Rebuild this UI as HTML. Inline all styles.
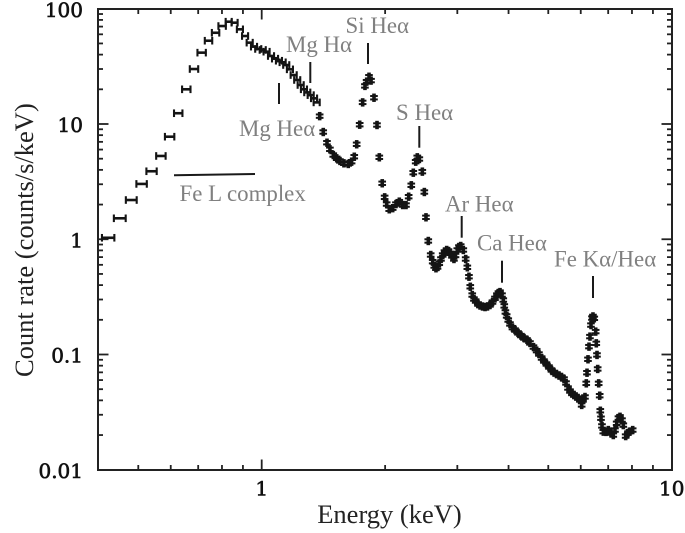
<!DOCTYPE html>
<html lang="en">
<head>
<meta charset="utf-8">
<title>X-ray count rate spectrum</title>
<style>
  html, body { margin: 0; padding: 0; background: #fff; }
  body { width: 685px; height: 533px; overflow: hidden; }
  svg { display: block; }
  .note { font-family: "Liberation Serif", serif; font-size: 22.9px; fill: #808080; }
  .title { font-family: "Liberation Serif", serif; font-size: 26.5px; fill: #222; }
  .tick-label { font-family: "DejaVu Serif", serif; font-size: 20px; fill: #111; stroke: #111; stroke-width: 0.6px; }
</style>
</head>
<body>
<svg id="chart" xmlns="http://www.w3.org/2000/svg" width="685" height="533" viewBox="0 0 685 533">
  <rect x="0" y="0" width="685" height="533" fill="#fff"/>
  <g id="ticks"></g>
  <rect x="98" y="9" width="574" height="461" fill="none" stroke="#222" stroke-width="2"/>
  <g id="labels"></g>
  <g id="points"></g>

  <g stroke="#1a1a1a" stroke-width="2" fill="none">
    <line x1="174" y1="175.3" x2="255" y2="174"/>
    <line x1="279" y1="83" x2="279" y2="104"/>
    <line x1="310.3" y1="62" x2="310.3" y2="83"/>
    <line x1="368" y1="43" x2="368" y2="64"/>
    <line x1="419.3" y1="126" x2="419.3" y2="147.7"/>
    <line x1="461.7" y1="216" x2="461.7" y2="237.7"/>
    <line x1="502" y1="260.7" x2="502" y2="282.7"/>
    <line x1="593" y1="276" x2="593" y2="298"/>
  </g>

  <text class="note" x="345.5" y="33">Si Heα</text>
  <text class="note" x="286" y="52">Mg Hα</text>
  <text class="note" x="239" y="136">Mg Heα</text>
  <text class="note" x="396" y="120">S Heα</text>
  <text class="note" x="179.5" y="201">Fe L complex</text>
  <text class="note" x="445" y="211.5">Ar Heα</text>
  <text class="note" x="477" y="250.7">Ca Heα</text>
  <text class="note" x="554" y="266.7">Fe Kα/Heα</text>

  <text class="title" x="389.5" y="523" text-anchor="middle">Energy (keV)</text>
  <text class="title" transform="translate(33 377) rotate(-90)">Count rate (counts/s/keV)</text>
</svg>

<script>
const energies = [
  0.4225,0.451,0.481,0.5097,0.539,0.568,0.5965,0.626,0.655,0.684,
  0.714,0.742,0.772,0.801,0.831,0.859,0.885,0.911,0.935,0.958,
  0.981,1.006,1.028,1.054,1.078,1.102,1.125,1.148,1.172,1.197,
  1.221,1.245,1.268,1.292,1.317,1.342,1.362,1.385,1.413,1.443,
  1.467,1.495,1.524,1.552,1.587,1.626,1.657,1.682,1.705,1.734,
  1.763,1.786,1.803,1.827,1.848,1.879,1.911,1.936,1.968,1.995,
  2.018,2.047,2.087,2.126,2.166,2.207,2.249,2.283,2.317,2.343,
  2.375,2.396,2.424,2.465,2.493,2.516,2.549,2.584,
  2.613,2.636,2.661,2.685,2.711,2.737,2.764,2.792,2.826,2.855,
  2.88,2.912,2.944,2.97,3.0,3.028,3.058,3.103,3.145,3.174,
  3.203,3.227,3.263,3.294,3.327,3.37,3.408,3.456,3.505,3.554,
  3.604,3.656,3.707,3.748,3.781,3.813,3.856,3.884,3.906,3.931,
  3.959,3.994,4.033,4.09,4.149,4.219,4.289,4.363,4.437,4.512,
  4.602,4.685,4.745,4.818,4.88,4.95,5.02,5.092,5.165,5.236,
  5.311,5.386,5.463,5.525,5.587,5.649,5.712,5.777,5.842,5.908,
  5.974,6.032,6.077,6.145,6.19,6.215,
  6.25,6.285,6.32,6.356,6.392,6.427,6.475,6.526,6.548,6.574,
  6.6,6.637,6.675,6.698,6.724,6.761,6.811,6.915,7.005,7.112,
  7.204,7.273,7.343,7.417,7.48,7.565,7.621,7.723,7.823,7.89,
  8.033
];
const countRates = [
  1.03,1.52,2.19,3.02,3.89,5.28,7.76,12.4,20.0,30.0,
  41.6,52.8,61.9,70.8,77.2,75.7,66.3,58.0,50.8,46.9,
  44.8,43.9,42.4,38.9,36.9,35.4,34.3,32.5,29.8,26.6,
  24.1,21.8,20.0,18.8,17.8,16.7,15.4,11.7,8.52,6.88,
  6.03,5.38,5.04,4.78,4.56,4.50,4.71,5.20,6.67,9.86,
  15.4,21.4,23.3,25.7,23.8,16.9,9.80,5.14,3.06,2.31,
  2.02,1.82,1.86,2.02,2.12,1.98,1.98,2.34,2.94,3.78,
  4.71,5.14,4.97,3.86,2.57,1.55,0.966,0.730,
  0.639,0.586,0.560,0.574,0.618,0.674,0.730,0.775,0.807,0.791,
  0.755,0.716,0.674,0.723,0.807,0.857,0.874,0.807,0.674,0.571,
  0.473,0.387,0.328,0.303,0.291,0.274,0.266,0.261,0.258,0.261,
  0.269,0.285,0.307,0.328,0.342,0.348,0.328,0.297,0.264,0.234,
  0.216,0.199,0.184,0.171,0.163,0.154,0.146,0.139,0.134,0.126,
  0.116,0.108,0.101,0.0932,0.0878,0.0827,0.0779,0.0734,0.0698,0.0677,
  0.0657,0.0638,0.0613,0.0566,0.0512,0.0482,0.0459,0.0445,0.0432,0.0419,
  0.0403,0.0365,0.0403,0.0428,0.0562,0.0695,
  0.0909,0.117,0.143,0.180,0.207,0.214,0.206,0.158,0.125,0.0991,
  0.0749,0.0562,0.0439,0.0325,0.028,0.024,0.0214,0.0213,0.0221,0.0208,
  0.020,0.0221,0.0253,0.0281,0.0288,0.027,0.0244,0.0196,0.0208,0.0214,
  0.0221
];
const lowEnergyHalfWidths = [0.0166,0.017,0.0168,0.0172,0.018,0.0176,0.0184,0.0176,0.0184,0.0192,0.02,0.0188,0.0195,0.0203];
const defaultBinFraction = 0.0215;
const crossMarkerEnergy = 1.375;

const xMajorTicks = [1, 10];
const xMinorTicks = [0.5,0.6,0.7,0.8,0.9,2,3,4,5,6,7,8,9];
const yMajorTicks = [0.1, 1, 10];
const yMinorBases = [0.01, 0.1, 1, 10];
const yMinorSteps = [2,3,4,5,6,7,8,9];
const xTickLabels = ["1", "10"];
const yTickValues = [100, 10, 1, 0.1, 0.01];
const yTickLabels = ["100", "10", "1", "0.1", "0.01"];

const NS = 'http://www.w3.org/2000/svg';
const xScale = function (e) { return 261.7 + 410 * Math.log10(e); };
const yScale = function (r) { return 124 - 115.25 * (Math.log10(r) - 1); };

function makeLine(parent, x1, y1, x2, y2, width, color) {
  const l = document.createElementNS(NS, 'line');
  l.setAttribute('x1', x1);
  l.setAttribute('y1', y1);
  l.setAttribute('x2', x2);
  l.setAttribute('y2', y2);
  l.setAttribute('stroke', color);
  l.setAttribute('stroke-width', width);
  parent.appendChild(l);
  return l;
}

const tickGroup = document.getElementById('ticks');
const tickColor = '#222';
xMajorTicks.forEach(function (v) {
  const px = xScale(v);
  if (v < 10) {
    const bottom = makeLine(tickGroup, px, 470, px, 459.5, 1.8, tickColor);
    
    
    const top = makeLine(tickGroup, px, 9, px, 19.5, 1.8, tickColor);
    
    
  }
});
xMinorTicks.forEach(function (v) {
  const px = xScale(v);
  const bottom = makeLine(tickGroup, px, 470, px, 465, 1.8, tickColor);
  
  
  const top = makeLine(tickGroup, px, 9, px, 14, 1.8, tickColor);
  
  
});
yMajorTicks.forEach(function (v) {
  const py = yScale(v);
  const left = makeLine(tickGroup, 98, py, 108.5, py, 1.8, tickColor);
  
  
  const right = makeLine(tickGroup, 672, py, 661.5, py, 1.8, tickColor);
  
  
});
yMinorBases.forEach(function (base) {
  yMinorSteps.forEach(function (step) {
    const py = yScale(base * step);
    const left = makeLine(tickGroup, 98, py, 103, py, 1.8, tickColor);
    
    
    const right = makeLine(tickGroup, 672, py, 667, py, 1.8, tickColor);
    
    
  });
});

const labelGroup = document.getElementById('labels');
yTickValues.forEach(function (v, i) {
  const t = document.createElementNS(NS, 'text');
  t.setAttribute('class', 'tick-label');
  
  
  t.setAttribute('x', 83);
  t.setAttribute('y', yScale(v) + 8);
  t.setAttribute('text-anchor', 'end');
  t.textContent = yTickLabels[i];
  labelGroup.appendChild(t);
});
xMajorTicks.forEach(function (v, i) {
  const t = document.createElementNS(NS, 'text');
  t.setAttribute('class', 'tick-label');
  
  
  t.setAttribute('x', xScale(v));
  t.setAttribute('y', 495.5);
  t.setAttribute('text-anchor', 'middle');
  t.textContent = xTickLabels[i];
  labelGroup.appendChild(t);
});

const pointGroup = document.getElementById('points');
const markColor = '#141414';
energies.forEach(function (e, i) {
  const half = i < lowEnergyHalfWidths.length ? lowEnergyHalfWidths[i] : e * defaultBinFraction;
  const x1 = xScale(e - half);
  const x2 = xScale(e + half);
  const cx = xScale(e);
  const py = yScale(countRates[i]);
  const g = document.createElementNS(NS, 'g');
  
  
  if (e >= crossMarkerEnergy) {
    makeLine(g, x1, py - 1.7, x2, py - 1.7, 2, markColor);
    makeLine(g, x1, py + 1.7, x2, py + 1.7, 2, markColor);
    makeLine(g, cx, py - 4.2, cx, py + 4.2, 3.6, markColor);
  } else {
    makeLine(g, x1, py, x2, py, 2.6, markColor);
    makeLine(g, x1 + 0.8, py - 3.8, x1 + 0.8, py + 3.8, 2.1, markColor);
    makeLine(g, x2 - 0.8, py - 3.8, x2 - 0.8, py + 3.8, 2.1, markColor);
  }
  pointGroup.appendChild(g);
});
</script>
</body>
</html>
